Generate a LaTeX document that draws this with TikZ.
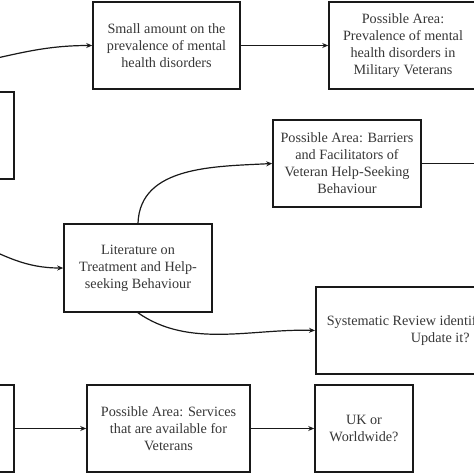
\documentclass[tikz,border=0pt]{standalone}
\usepackage{fontspec}
\setmainfont{Liberation Serif}
\usetikzlibrary{arrows.meta}
\definecolor{linec}{RGB}{25,25,25}
\definecolor{textc}{RGB}{55,55,55}
\begin{document}
\begin{tikzpicture}[x=1pt,y=1pt,
  box/.style={draw=linec, line width=1.6pt, rectangle, minimum height=87pt, inner sep=0pt,
    align=center, font=\fontsize{14.2}{17}\selectfont, text=textc},
  conn/.style={draw=linec, line width=1.2pt},
  arr/.style={conn, -{Stealth[length=6pt,width=5pt]}}]
\useasboundingbox (0,0) rectangle (474,-474);
\fill[white] (0,0) rectangle (474,-474);
\clip (0,0) rectangle (474,-474);

\node[box, minimum width=147pt] (A) at (166.5,-45.5) {Small amount on the\\prevalence of mental\\health disorders};
\node[box, minimum width=148pt] (B) at (403,-45.5) {Possible Area:\\Prevalence of mental\\health disorders in\\Military Veterans};
\node[box, minimum width=148pt] (L1) at (-60,-135.5) {};
\node[box, minimum width=148pt] (C) at (347,-163.5) {Possible Area: Barriers\\and Facilitators of\\Veteran Help-Seeking\\Behaviour};
\node[box, minimum width=148pt, minimum height=88pt] (Lit) at (138,-268) {Literature on\\Treatment and Help-\\seeking Behaviour};
\node[box, anchor=west, align=left, inner xsep=11pt] (D) at (315,-330.5) {Systematic Review identified\\\hspace*{84pt}Update it?};
\node[box, minimum width=148pt] (L3) at (-60,-428.5) {};
\node[box, minimum width=163pt] (E) at (168.5,-428.5) {Possible Area: Services\\that are available for\\Veterans};
\node[box, minimum width=98pt] (F) at (364,-428.5) {UK or\\Worldwide?};

\coordinate (s1) at (-30,-64);
\coordinate (s2) at (-30,-240);
\coordinate (c2) at (490,-163.5);

\draw[arr] (s1) to[out=12,in=180] (A.west);
\draw[arr] (A) -- (B);
\draw[arr] (Lit.north) to[out=88,in=183] (C.west);
\draw[conn] (C) -- (c2);
\draw[arr] (s2) to[out=-25,in=180] (Lit.west);
\draw[arr] (Lit.south) to[out=-35,in=178,looseness=0.9] (D.west);
\draw[arr] (L3) -- (E);
\draw[arr] (E) -- (F);
\end{tikzpicture}
\end{document}
